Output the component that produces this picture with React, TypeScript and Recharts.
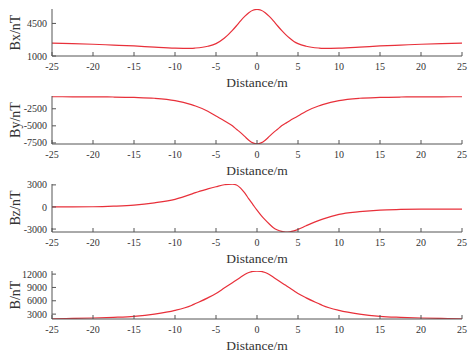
import React from "react";
import { LineChart, Line, XAxis, YAxis } from "recharts";

// distance along profile (m)
const distance = [-25, -22.5, -20, -17.5, -15, -12.5, -10, -8, -7.5, -6, -5, -4, -3, -2.5, -2, -1.5, -1, -0.5, 0,
  0.5, 1, 1.5, 2, 2.5, 3, 3.5, 4, 4.5, 5, 6, 7.5, 8, 10, 12.5, 15, 17.5, 20, 22.5, 25];

// Bx (nT)
const bx = [2380, 2330, 2260, 2170, 2080, 1950, 1850, 1830, 1860, 2050, 2330, 2900, 3750, 4250, 4780, 5250, 5650, 5920, 6000,
  5920, 5650, 5250, 4780, 4250, 3750, 3300, 2900, 2570, 2330, 2050, 1860, 1830, 1850, 1950, 2080, 2170, 2260, 2330, 2380];

// By (nT)
const by = [-740, -745, -750, -780, -840, -960, -1300, -1900, -2100, -2850, -3560, -4250, -5000, -5500, -6000, -6550, -7100, -7500, -7650,
  -7500, -7100, -6550, -6000, -5500, -5000, -4620, -4250, -3900, -3560, -2850, -2100, -1900, -1300, -960, -840, -780, -750, -745, -740];

// Bz (nT)
const bz = [0, 10, 30, 110, 250, 560, 1040, 1750, 1950, 2450, 2750, 3020, 3090, 2980, 2560, 1900, 1100, 330, -440,
  -1150, -1760, -2320, -2810, -3120, -3310, -3400, -3370, -3250, -3050, -2550, -1850, -1650, -1000, -640, -420, -340, -300, -290, -280];

// |B| (nT)
const bTotal = [1950, 2020, 2120, 2280, 2510, 3000, 3830, 4950, 5370, 6660, 7640, 8860, 10080, 10700, 11300, 11900, 12370, 12620, 12690,
  12620, 12370, 11900, 11300, 10700, 10080, 9470, 8860, 8250, 7640, 6660, 5370, 4950, 3830, 3000, 2510, 2280, 2120, 2020, 1950];

const xTicks = [-25, -20, -15, -10, -5, 0, 5, 10, 15, 20, 25];
const bxTicks = [1000, 4500];
const byTicks = [-7500, -5000, -2500];
const bzTicks = [-3000, 0, 3000];
const bTicks = [3000, 6000, 9000, 12000];

const data = distance.map((d, i) => ({ d, bx: bx[i], by: by[i], bz: bz[i], b: bTotal[i] }));

const FONT = "Liberation Serif";
const AXIS = "#555";
const tickStyle = { fontSize: 10, fill: "#333", fontFamily: FONT };

interface PanelProps {
  top: number;
  plotTop: number;
  dataKey: string;
  label: string;
  domain: [number, number];
  ticks: number[];
}

function Panel({ top, plotTop, dataKey, label, domain, ticks }: PanelProps) {
  return (
    <div style={{ position: "absolute", left: 0, top }}>
      <LineChart width={474} height={92} data={data}
        margin={{ top: plotTop, right: 12, bottom: 4, left: 0 }}>
        <XAxis dataKey="d" type="number" domain={[-25, 25]} ticks={xTicks} allowDataOverflow
          tickSize={-4} tickMargin={11} height={32} interval={0}
          stroke={AXIS} tick={tickStyle}
          label={{ value: "Distance/m", position: "insideBottom", offset: 1,
            style: { fontSize: 13.5, fill: "#333" } }} />
        <XAxis xAxisId="top" orientation="top" dataKey="d" type="number" domain={[-25, 25]} ticks={xTicks}
          tickSize={-4} height={0} stroke={AXIS} tick={false} interval={0} />
        <YAxis domain={domain} ticks={ticks} allowDataOverflow interval={0}
          tickSize={-4} tickMargin={9} width={52} stroke={AXIS} tick={tickStyle}
          label={{ value: label, angle: -90, position: "insideLeft", offset: 15,
            style: { textAnchor: "middle", fontSize: 14, fill: "#333" } }} />
        <YAxis yAxisId="right" orientation="right" domain={domain} ticks={ticks} allowDataOverflow interval={0}
          tickSize={-4} width={0} stroke={AXIS} tick={false} />
        <Line type="monotone" dataKey={dataKey} stroke="#e8303a" strokeWidth={1.2}
          dot={false} isAnimationActive={false} />
      </LineChart>
    </div>
  );
}

export default function App() {
  return (
    <div style={{ position: "absolute", left: 0, top: 0, width: 474, height: 353, background: "#fff" }}>
      <style>{`.recharts-text, .recharts-label { font-family: "Liberation Serif", "Times New Roman", serif; }`}</style>
      <Panel top={0} plotTop={9} dataKey="bx" label="Bx/nT" domain={[1000, 6050]} ticks={bxTicks} />
      <Panel top={88} plotTop={8} dataKey="by" label="By/nT" domain={[-7660, -630]} ticks={byTicks} />
      <Panel top={176} plotTop={8} dataKey="bz" label="Bz/nT" domain={[-3400, 3120]} ticks={bzTicks} />
      <Panel top={263} plotTop={8} dataKey="b" label="B/nT" domain={[1900, 12700]} ticks={bTicks} />
    </div>
  );
}
